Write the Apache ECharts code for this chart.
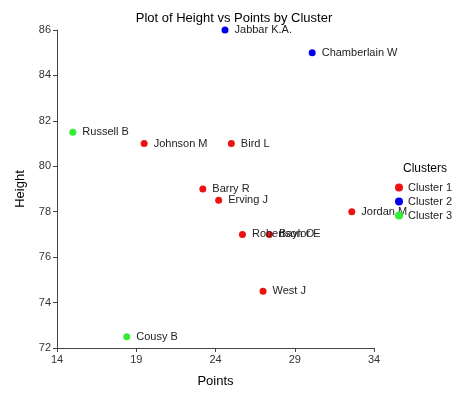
<!DOCTYPE html>
<html><head><meta charset="utf-8">
<script src="https://cdn.jsdelivr.net/npm/echarts@6/dist/echarts.min.js"></script>
<style>html,body{margin:0;padding:0;background:#fff}#c{width:474px;height:395px}</style>
</head><body><div id="c"></div>
<script>
var playerNames = ['Jabbar K.A.','Chamberlain W','Russell B','Johnson M','Bird L','Barry R','Erving J','Robertson O','Baylor E','West J','Jordan M','Cousy B'];
var points =      [24.6, 30.1, 15.0, 19.5, 25.0, 23.2, 24.2, 25.7, 27.4, 27.0, 32.6, 18.4];
var heights =     [86,   85,   81.5, 81,   81,   79,   78.5, 77,   77,   74.5, 78,   72.5];
var clusters =    [2,    2,    3,    1,    1,    1,    1,    1,    1,    1,    1,    3];
var clusterNames = ['Cluster 1','Cluster 2','Cluster 3'];
var clusterColors = ['#ee1111','#0000ee','#33ee33'];
var xTicks = [14,19,24,29,34];
var yTicks = [72,74,76,78,80,82,84,86];

var font = 'Arial, "Liberation Sans", sans-serif';
var series = clusterNames.map(function(cn, ci){
  var d = [];
  for (var i=0;i<playerNames.length;i++) if (clusters[i]===ci+1) d.push({name:playerNames[i], value:[points[i],heights[i]]});
  return {
    name: cn, type:'scatter', data:d, symbol:'circle', symbolSize:7,
    itemStyle:{color:clusterColors[ci], opacity:1},
    label:{show:true, position:'right', distance:6, formatter:function(p){return p.name;}, color:'#222', fontSize:11, fontFamily:font},
    labelLayout:{hideOverlap:false}
  };
});
var chart = echarts.init(document.getElementById('c'), null, {renderer:'canvas'});
chart.setOption({
  animation:false,
  backgroundColor:'#fff',
  title:[
    {text:'Plot of Height vs Points by Cluster', left:229, top:7, textAlign:'center', textStyle:{fontSize:13, fontWeight:'normal', color:'#000', fontFamily:font}},
    {text:'Clusters', left:420, top:158, textAlign:'center', textStyle:{fontSize:12, fontWeight:'normal', color:'#000', fontFamily:font}}
  ],
  legend:{orient:'vertical', left:390, top:177, itemGap:3, itemWidth:8, itemHeight:8, icon:'circle',
    textStyle:{fontSize:11, color:'#222', fontFamily:font}, data:clusterNames, selectedMode:false},
  grid:{left:57, right:100, top:30, bottom:47, containLabel:false},
  xAxis:{type:'value', min:xTicks[0], max:xTicks[xTicks.length-1], interval:5,
    name:'Points', nameLocation:'middle', nameGap:27, nameTextStyle:{fontSize:13, color:'#000', fontFamily:font},
    axisLine:{show:true, onZero:false, lineStyle:{color:'#444'}}, axisTick:{show:true, length:4, lineStyle:{color:'#444'}},
    axisLabel:{fontSize:11, color:'#333', margin:6, fontFamily:font}, splitLine:{show:false}},
  yAxis:{type:'value', min:yTicks[0], max:yTicks[yTicks.length-1], interval:2,
    name:'Height', nameLocation:'middle', nameGap:30, nameTextStyle:{fontSize:13, color:'#000', fontFamily:font},
    axisLine:{show:true, onZero:false, lineStyle:{color:'#444'}}, axisTick:{show:true, length:4, lineStyle:{color:'#444'}},
    axisLabel:{fontSize:11, color:'#333', margin:6, fontFamily:font}, splitLine:{show:false}},
  series: series
});
</script></body></html>
